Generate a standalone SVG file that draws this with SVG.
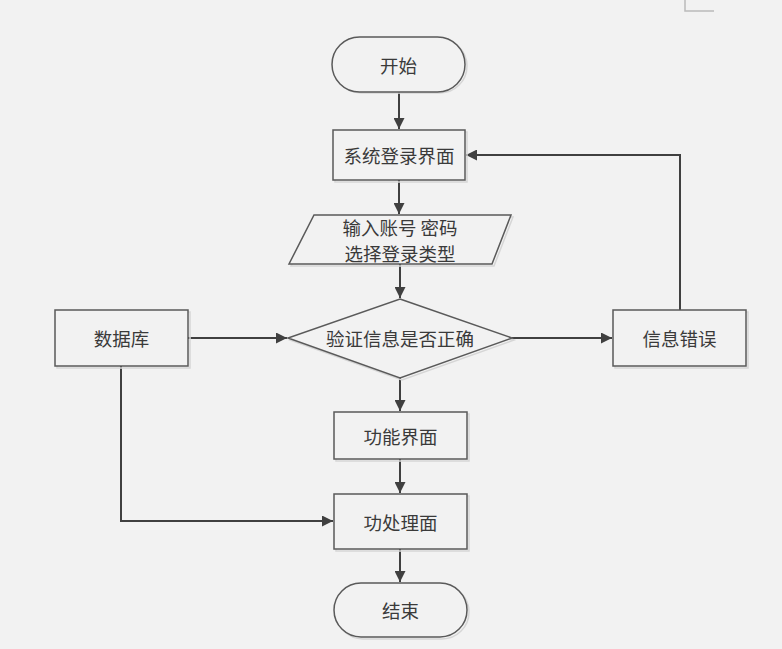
<svg xmlns="http://www.w3.org/2000/svg" width="782" height="649" viewBox="0 0 782 649">
<style>
.n{fill:#f2f2f2;stroke:#5a5a5a;stroke-width:1.5}
.sh{fill:none;stroke:#d6d6d6;stroke-width:1.5}
.t{font-family:"Noto Sans CJK SC","Noto Sans",sans-serif;font-size:18.5px;fill:#3a3a3a;text-anchor:middle;dominant-baseline:central}
.c{fill:none;stroke:#404040;stroke-width:2}
</style>
<defs>
<marker id="a" viewBox="0 0 10 10" refX="10" refY="5" markerWidth="5.5" markerHeight="5.5" orient="auto" markerUnits="strokeWidth">
<path d="M0,0 L10,5 L0,10 z" fill="#404040"/>
</marker>
</defs>
<rect width="782" height="649" fill="#f2f2f2"/>
<path d="M685,0 V11 H714" fill="none" stroke="#bbb" stroke-width="1.5"/>
<g id="connectors">
<path class="c" d="M399,92 V129" marker-end="url(#a)"/>
<path class="c" d="M399,180 V214" marker-end="url(#a)"/>
<path class="c" d="M400,264 V298" marker-end="url(#a)"/>
<path class="c" d="M188,338 H287" marker-end="url(#a)"/>
<path class="c" d="M512,338 H612" marker-end="url(#a)"/>
<path class="c" d="M680,310 V155 H466" marker-end="url(#a)"/>
<path class="c" d="M400,378 V411" marker-end="url(#a)"/>
<path class="c" d="M400,459 V493" marker-end="url(#a)"/>
<path class="c" d="M400,549 V582" marker-end="url(#a)"/>
<path class="c" d="M121,366 V521 H333" marker-end="url(#a)"/>
</g>
<g id="start">
<rect class="sh" x="334" y="39" width="133" height="54" rx="27"/>
<rect class="n" x="332" y="37" width="133" height="55" rx="27.5"/>
<text class="t" x="398.5" y="65">开始</text>
</g>
<g id="login">
<rect class="sh" x="335" y="132" width="132" height="50"/>
<rect class="n" x="333" y="130" width="132" height="50"/>
<text class="t" x="399" y="155">系统登录界面</text>
</g>
<g id="input">
<polygon class="sh" points="316,217 513,217 494,266 291,266"/>
<polygon class="n" points="314,215 511,215 492,264 289,264"/>
<text class="t" x="400" y="227">输入账号 密码</text>
<text class="t" x="400" y="253">选择登录类型</text>
</g>
<g id="verify">
<polygon class="sh" points="402,301 514,340 402,380 290,340"/>
<polygon class="n" points="400,299 512,338 400,378 288,338"/>
<text class="t" x="400" y="338">验证信息是否正确</text>
</g>
<g id="db">
<rect class="sh" x="57" y="312" width="133" height="56"/>
<rect class="n" x="55" y="310" width="133" height="56"/>
<text class="t" x="121.5" y="338">数据库</text>
</g>
<g id="error">
<rect class="sh" x="615" y="312" width="133" height="56"/>
<rect class="n" x="613" y="310" width="133" height="56"/>
<text class="t" x="679.5" y="338">信息错误</text>
</g>
<g id="func">
<rect class="sh" x="336" y="414" width="133" height="47"/>
<rect class="n" x="334" y="412" width="133" height="47"/>
<text class="t" x="400.5" y="435.5">功能界面</text>
</g>
<g id="process">
<rect class="sh" x="336" y="496" width="133" height="55"/>
<rect class="n" x="334" y="494" width="133" height="55"/>
<text class="t" x="400.5" y="521.5">功处理面</text>
</g>
<g id="end">
<rect class="sh" x="336" y="585" width="133" height="54" rx="27"/>
<rect class="n" x="334" y="583" width="133" height="54" rx="27"/>
<text class="t" x="400.5" y="610">结束</text>
</g>
</svg>
